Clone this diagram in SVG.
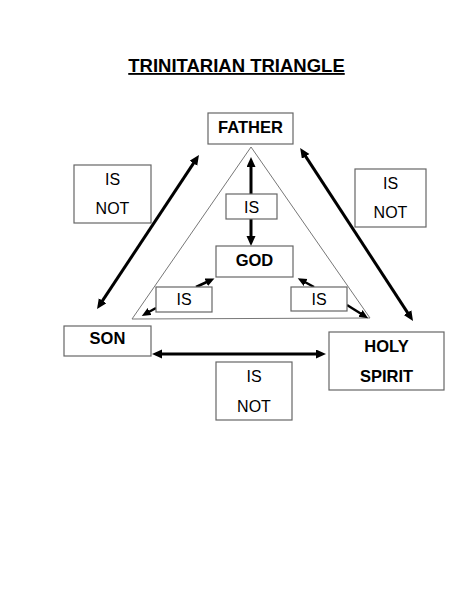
<svg xmlns="http://www.w3.org/2000/svg" width="474" height="613" viewBox="0 0 474 613">
<style>
  .box { fill: #fff; stroke: #666; stroke-width: 1.2; }
  .lbl { font-family: "Liberation Sans", Arial, sans-serif; font-size: 16.5px; font-weight: bold; fill: #000; text-anchor: middle; }
  .txt { font-family: "Liberation Sans", Arial, sans-serif; font-size: 16px; fill: #000; text-anchor: middle; }
  .arr { stroke: #000; stroke-width: 3; fill: none; }
  .arr2 { stroke: #000; stroke-width: 2.5; fill: none; }
  .tri { fill: none; stroke: #777; stroke-width: 1; }
</style>
<defs>
  <marker id="ah" markerUnits="userSpaceOnUse" markerWidth="11" markerHeight="10" refX="3" refY="4.5" orient="auto-start-reverse" viewBox="0 0 11 10">
    <path d="M0,0 L10,4.5 L0,9 z" fill="#000"/>
  </marker>
  <marker id="ahs" markerUnits="userSpaceOnUse" markerWidth="10" markerHeight="9" refX="3" refY="4" orient="auto-start-reverse" viewBox="0 0 10 9">
    <path d="M0,0 L9,4 L0,8 z" fill="#000"/>
  </marker>
</defs>
<rect width="474" height="613" fill="#fff"/>
<g id="title">
  <text x="236.5" y="72" font-family="Liberation Sans, Arial, sans-serif" font-size="18.5" font-weight="bold" text-anchor="middle" text-decoration="underline">TRINITARIAN TRIANGLE</text>
</g>
<g id="triangle">
  <path class="tri" d="M251,147 L370,318 L132,319 Z"/>
</g>
<g id="connectors">
  <line class="arr" x1="195.1" y1="160.8" x2="100.9" y2="303.2" marker-start="url(#ah)" marker-end="url(#ah)"/>
  <line class="arr" x1="304" y1="153.9" x2="409.2" y2="315.1" marker-start="url(#ah)" marker-end="url(#ah)"/>
  <line class="arr" x1="251" y1="164" x2="251" y2="239" marker-start="url(#ah)" marker-end="url(#ah)"/>
  <line class="arr" x1="159" y1="354" x2="319" y2="354" marker-start="url(#ah)" marker-end="url(#ah)"/>
  <line class="arr2" x1="196" y1="287" x2="209" y2="281" marker-end="url(#ahs)"/>
  <line class="arr2" x1="156" y1="308" x2="147" y2="313" marker-end="url(#ahs)"/>
  <line class="arr2" x1="314" y1="287" x2="303" y2="281" marker-end="url(#ahs)"/>
  <line class="arr2" x1="347" y1="305" x2="363" y2="315" marker-end="url(#ahs)"/>
</g>
<g id="father">
  <rect class="box" x="208" y="113" width="85" height="31"/>
  <text class="lbl" x="250.5" y="133">FATHER</text>
</g>
<g id="is-not-left">
  <rect class="box" x="74" y="165" width="77" height="58"/>
  <text class="txt" x="112.5" y="185">IS</text>
  <text class="txt" x="112.5" y="214">NOT</text>
</g>
<g id="is-not-right">
  <rect class="box" x="355" y="169" width="71" height="58"/>
  <text class="txt" x="390.5" y="189">IS</text>
  <text class="txt" x="390.5" y="218">NOT</text>
</g>
<g id="is-top">
  <rect class="box" x="226" y="194" width="51" height="25"/>
  <text class="txt" x="251.5" y="213">IS</text>
</g>
<g id="god">
  <rect class="box" x="216" y="246" width="77" height="31"/>
  <text class="lbl" x="254.5" y="266">GOD</text>
</g>
<g id="is-left">
  <rect class="box" x="156" y="287" width="56" height="25"/>
  <text class="txt" x="184" y="305">IS</text>
</g>
<g id="is-right">
  <rect class="box" x="291" y="287" width="56" height="24"/>
  <text class="txt" x="319" y="305">IS</text>
</g>
<g id="son">
  <rect class="box" x="64" y="326" width="87" height="30"/>
  <text class="lbl" x="107.5" y="344">SON</text>
</g>
<g id="holy-spirit">
  <rect class="box" x="329" y="332" width="115" height="58"/>
  <text class="lbl" x="386.5" y="352">HOLY</text>
  <text class="lbl" x="386.5" y="382">SPIRIT</text>
</g>
<g id="is-not-bottom">
  <rect class="box" x="216" y="362" width="76" height="58"/>
  <text class="txt" x="254" y="382">IS</text>
  <text class="txt" x="254" y="412">NOT</text>
</g>
</svg>
